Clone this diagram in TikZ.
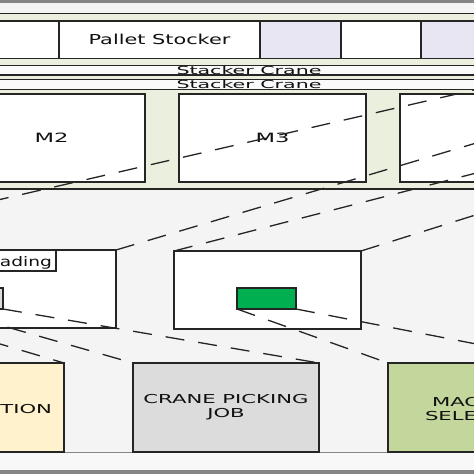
\documentclass[tikz,border=0pt]{standalone}
\usepackage{fontspec}
\setmainfont{DejaVu Sans}
\usepackage{graphicx}
\definecolor{framegray}{HTML}{858585}
\definecolor{lightbg}{HTML}{F4F4F4}
\definecolor{palegreen}{HTML}{EBEFDD}
\definecolor{lowbg}{HTML}{F4F4F4}
\definecolor{bottombg}{HTML}{F8F8F8}
\definecolor{lav}{HTML}{E7E6F2}
\definecolor{barbg}{HTML}{FAFAFA}
\definecolor{jobgray}{HTML}{DCDCDC}
\definecolor{yel}{HTML}{FFF2CC}
\definecolor{msgreen}{HTML}{C3D69B}
\definecolor{selgreen}{HTML}{00B050}
\definecolor{edge}{HTML}{252525}
\definecolor{txt}{HTML}{111111}
\newcommand{\hstr}[2]{\scalebox{#1}[1]{#2}}
\begin{document}
\begin{tikzpicture}[x=1pt,y=-1pt,
  box/.style={draw=edge, line width=1.4pt, inner sep=0pt, outer sep=0pt, anchor=north west, text=txt},
  link/.style={draw=edge, line width=1.3pt, dash pattern=on 19pt off 14pt},
  lbl/.style={inner sep=0pt, outer sep=0pt, text=txt},
  big/.style={font=\fontsize{12.3}{14}\selectfont}]
\useasboundingbox (0,0) rectangle (474,474);
% backgrounds
\fill[framegray] (-5,-5) rectangle (479,3);
\fill[lightbg] (-5,3) rectangle (479,13.5);
\fill[palegreen] (-5,13.5) rectangle (479,189);
\fill[lowbg] (-5,189) rectangle (479,452);
\fill[bottombg] (-5,452) rectangle (479,470);
\fill[framegray] (-5,470) rectangle (479,479);
\draw[edge, line width=1.3pt] (-5,13.5) -- (479,13.5);
\draw[edge, line width=1.3pt] (-5,189) -- (479,189);
\draw[framegray, line width=1pt] (-5,452.5) -- (479,452.5);
% pallet stocker row
\node[box, fill=white, minimum width=61pt, minimum height=37.3pt] (p0) at (-2,21) {};
\node[box, fill=white, minimum width=201pt, minimum height=37.3pt, font=\fontsize{13.7}{16}\selectfont] (p1) at (59,21) {\hstr{1.52}{Pallet Stocker}};
\node[box, fill=lav, minimum width=81pt, minimum height=37.3pt] (p2) at (260,21) {};
\node[box, fill=white, minimum width=80pt, minimum height=37.3pt] (p3) at (341,21) {};
\node[box, fill=lav, minimum width=58pt, minimum height=37.3pt] (p4) at (421,21) {};
% stacker cranes
\node[box, fill=barbg, minimum width=482pt, minimum height=9.3pt] (sc1) at (-4,65.7) {};
\node[lbl, anchor=base, font=\fontsize{11}{13}\selectfont] (sc1t) at (249,74) {\hstr{1.87}{Stacker Crane}};
\node[box, fill=barbg, minimum width=482pt, minimum height=10pt] (sc2) at (-4,79.3) {};
\node[lbl, anchor=base, font=\fontsize{11}{13}\selectfont] (sc2t) at (249,88.5) {\hstr{1.87}{Stacker Crane}};
% machines
\node[box, fill=white, minimum width=187pt, minimum height=88pt, font=\fontsize{12.8}{15}\selectfont] (m2) at (-42,94) {\hstr{1.77}{M2}};
\node[box, fill=white, minimum width=187pt, minimum height=88pt, font=\fontsize{12.8}{15}\selectfont] (m3) at (179,94) {\hstr{1.77}{M3}};
\node[box, fill=white, minimum width=187pt, minimum height=88pt] (m4) at (400,94) {};
% zoomed views
\node[box, fill=white, minimum width=187pt, minimum height=78pt] (load) at (-71,250) {};
\node[box, fill=white, minimum width=100pt, minimum height=21pt, anchor=north east] (loadlbl) at (56,250) {};
\node[lbl, anchor=base east, font=\fontsize{13.2}{15}\selectfont] (loadtxt) at (52,266) {\hstr{1.41}{ading}};
\node[box, fill=jobgray, minimum width=59pt, minimum height=21pt] (pick) at (-56,288) {};
\node[box, fill=white, minimum width=187pt, minimum height=78pt] (zoomr) at (174,251) {};
\node[box, fill=selgreen, minimum width=59pt, minimum height=21pt] (sel) at (237,288) {};
% bottom boxes
\node[box, fill=yel, minimum width=186pt, minimum height=89pt] (yb) at (-122,363) {};
\node[lbl, anchor=base east, big] (ybt) at (52,413.3) {\hstr{1.72}{TION}};
\node[box, fill=jobgray, minimum width=186pt, minimum height=89pt, big, align=center] (job) at (133,363) {\hstr{1.72}{CRANE PICKING}\\\hstr{1.72}{JOB}};
\node[box, fill=msgreen, minimum width=186pt, minimum height=89pt] (ms) at (388,363) {};
\node[lbl, anchor=base west, big] (mst1) at (432,406) {\hstr{1.72}{MAC}};
\node[lbl, anchor=base west, big] (mst2) at (425,420) {\hstr{1.72}{SELE}};
% dashed callout lines
\coordinate (a0) at (-10,201.8);
\coordinate (a1) at (484,87.7);
\coordinate (b1) at (484,140.7);
\coordinate (c1) at (484,171);
\coordinate (d1) at (484,212.3);
\coordinate (e0) at (-10,341);
\draw[link] (a0) -- (a1);
\draw[link] (load.north east) -- (b1);
\draw[link] (zoomr.north west) -- (c1);
\draw[link] (zoomr.north east) -- (d1);
\draw[link] (pick.south east) -- (job.north east);
\draw[link] (pick.south west) -- (job.north west);
\draw[link] (e0) -- (yb.north east);
\draw[link] (sel.south west) -- (ms.north west);
\draw[link] (sel.south east) -- (ms.north east);
\end{tikzpicture}
\end{document}
